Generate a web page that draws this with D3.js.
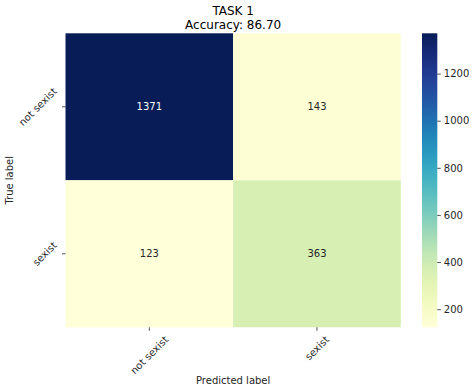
<!DOCTYPE html>
<html><head><meta charset="utf-8">
<script src="https://cdn.jsdelivr.net/npm/d3@7"></script>
<style>body{margin:0;background:#fff}svg{display:block}text{font-family:"DejaVu Sans",sans-serif;fill:#262626}</style>
</head><body>
<script>
const predictedLabels = ["not sexist", "sexist"];
const trueLabels = ["not sexist", "sexist"];
const matrix = [[1371, 143], [123, 363]];
const colorTicks = [200, 400, 600, 800, 1000, 1200];
const titleLines = ["TASK 1", "Accuracy: 86.70"];

const W = 474, H = 390;
const svg = d3.select("body").append("svg").attr("width", W).attr("height", H);
const L = 65.5, R = 400.8, T = 33.3, B = 327.3;
const x = d3.scaleBand().domain(predictedLabels).range([L, R]);
const y = d3.scaleBand().domain(trueLabels).range([T, B]);
const flat = matrix.flatMap((r, i) => r.map((v, j) => ({v, t: trueLabels[i], p: predictedLabels[j]})));
const vmin = d3.min(flat, d => d.v), vmax = d3.max(flat, d => d.v);
const color = d3.scaleSequential(d3.interpolateYlGnBu).domain([vmin, vmax]);

svg.selectAll("rect.cell").data(flat).join("rect").attr("class", "cell")
  .attr("x", d => x(d.p)).attr("y", d => y(d.t))
  .attr("width", x.bandwidth()).attr("height", y.bandwidth())
  .attr("fill", d => color(d.v));
svg.selectAll("text.ann").data(flat).join("text").attr("class", "ann")
  .attr("x", d => x(d.p) + x.bandwidth() / 2).attr("y", d => y(d.t) + y.bandwidth() / 2)
  .attr("text-anchor", "middle").attr("dominant-baseline", "central")
  .style("font-size", "10px")
  .style("fill", d => (d.v - vmin) / (vmax - vmin) > 0.5 ? "#ffffff" : "#262626")
  .text(d => d.v);

const S = Math.SQRT1_2;
// x axis
const xa = svg.append("g").attr("transform", `translate(0,${B})`)
  .call(d3.axisBottom(x).tickSize(3.5).tickPadding(3));
xa.select(".domain").remove();
xa.selectAll(".tick line").attr("stroke", "#262626").attr("stroke-width", 0.8);
xa.selectAll(".tick text").style("font-size", "10px")
  .attr("text-anchor", "middle").attr("dominant-baseline", "central").attr("dy", null).attr("y", 0)
  .each(function () {
    const len = this.getComputedTextLength();
    const half = (len + 10) * S / 2;
    d3.select(this).attr("transform", `translate(0,${7 + half}) rotate(-45)`);
  });

// y axis
const ya = svg.append("g").attr("transform", `translate(${L},0)`)
  .call(d3.axisLeft(y).tickSize(3.5).tickPadding(3));
ya.select(".domain").remove();
ya.selectAll(".tick line").attr("stroke", "#262626").attr("stroke-width", 0.8);
ya.selectAll(".tick text").style("font-size", "10px")
  .attr("text-anchor", "middle").attr("dominant-baseline", "central").attr("x", 0).attr("dy", null)
  .each(function () {
    const len = this.getComputedTextLength();
    const half = (len + 10) * S / 2;
    d3.select(this).attr("transform", `translate(${-7 - half},0) rotate(-45)`);
  });

// axis titles
svg.append("text").attr("x", (L + R) / 2).attr("y", 384).attr("text-anchor", "middle")
  .style("font-size", "10px").text("Predicted label");
svg.append("text").attr("transform", `translate(13,${(T + B) / 2}) rotate(-90)`)
  .attr("text-anchor", "middle").style("font-size", "10px").text("True label");

// title
svg.selectAll("text.title").data(titleLines).join("text").attr("class", "title")
  .attr("x", (L + R) / 2).attr("y", (d, i) => 15 + i * 13.5).attr("text-anchor", "middle")
  .style("font-size", "12px").style("fill", "#000").text(d => d);

// colorbar
const cbL = 422, cbW = 15.3;
const cy = d3.scaleLinear().domain([vmin, vmax]).range([B, T]);
const defs = svg.append("defs");
const grad = defs.append("linearGradient").attr("id", "cb").attr("x1", 0).attr("y1", 1).attr("x2", 0).attr("y2", 0);
d3.range(0, 1.0001, 0.05).forEach(t => grad.append("stop").attr("offset", t).attr("stop-color", d3.interpolateYlGnBu(t)));
svg.append("rect").attr("x", cbL).attr("y", T).attr("width", cbW).attr("height", B - T).attr("fill", "url(#cb)");
const ca = svg.append("g").attr("transform", `translate(${cbL + cbW},0)`)
  .call(d3.axisRight(cy).tickValues(colorTicks).tickFormat(d3.format("d")).tickSize(3.5).tickPadding(3));
ca.select(".domain").remove();
ca.selectAll(".tick line").attr("stroke", "#262626").attr("stroke-width", 0.8);
ca.selectAll(".tick text").style("font-size", "10px");
</script>
</body></html>
